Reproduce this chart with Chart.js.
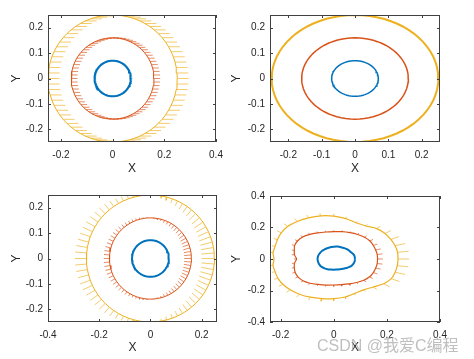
<!DOCTYPE html>
<html>
<head>
<meta charset="utf-8">
<script src="https://cdn.jsdelivr.net/npm/chart.js@4.4.1/dist/chart.umd.min.js"></script>
<style>
    html, body { margin: 0; padding: 0; background: #fff; }
    #wrap { position: relative; width: 474px; height: 359px; overflow: hidden; }
    canvas { position: absolute; }
    #mark {
        position: absolute; left: 317px; top: 332px;
        font: 16px "Liberation Sans", "Noto Sans CJK SC", sans-serif;
        color: rgba(170, 170, 170, 0.75); white-space: nowrap;
    }
</style>
</head>
<body>
<div id="wrap">
    <canvas id="c1" width="237" height="180" style="left:0;top:0"></canvas>
    <canvas id="c2" width="254" height="180" style="left:220px;top:0"></canvas>
    <canvas id="c3" width="237" height="179" style="left:0;top:180px"></canvas>
    <canvas id="c4" width="254" height="179" style="left:220px;top:180px"></canvas>
    <div id="mark">CSDN @我爱C编程</div>
</div>
<script>
// sample angles (degrees) along each ring
const ANGLES = [0,5,10,15,20,25,30,35,40,45,50,55,60,65,70,75,80,85,90,95,100,105,110,115,120,125,130,135,140,145,150,155,160,165,170,175,
    180,185,190,195,200,205,210,215,220,225,230,235,240,245,250,255,260,265,270,275,280,285,290,295,300,305,310,315,320,325,330,335,340,345,350,355];
const P4_ANGLES = [0,10,20,30,40,50,60,70,80,90,100,110,120,130,140,150,160,170,180,190,200,210,220,230,240,250,260,270,280,290,300,310,320,330,340,350];

// panel 1: circles, horizontal arrows
const p1Radius = [0.07, 0.16, 0.25];          // blue, red, yellow
const p1ArrowDx = [0.006, 0.024, 0.044];
const p1XTicks = [-0.2, 0, 0.2, 0.4];
const p1YTicks = [-0.2, -0.1, 0, 0.1, 0.2];

// panel 2: circles, (almost) no arrows
const p2Radius = [0.07, 0.16, 0.25];
const p2XTicks = [-0.2, -0.1, 0, 0.1, 0.2];
const p2YTicks = [-0.2, -0.1, 0, 0.1, 0.2];

// panel 3: circles, radial arrows (outward positive)
const p3Radius = [0.072, 0.16, 0.25];
const p3RedArrow = [-0.028,-0.028,-0.027,-0.027,-0.026,-0.025,-0.024,-0.023,-0.021,-0.020,-0.018,-0.016,-0.014,-0.012,-0.010,-0.007,-0.005,-0.002,
    0.000,0.002,0.004,0.006,0.008,0.009,0.011,0.013,0.014,0.016,0.017,0.018,0.019,0.020,0.021,0.022,0.022,0.022,
    0.022,0.022,0.022,0.022,0.021,0.020,0.019,0.018,0.017,0.016,0.014,0.013,0.011,0.009,0.008,0.006,0.004,0.002,
    0.000,-0.002,-0.005,-0.007,-0.010,-0.012,-0.014,-0.016,-0.018,-0.020,-0.021,-0.023,-0.024,-0.025,-0.026,-0.027,-0.027,-0.028];
const p3YellowArrow = [-0.050,-0.050,-0.049,-0.048,-0.047,-0.045,-0.043,-0.041,-0.038,-0.035,-0.032,-0.029,-0.025,-0.021,-0.017,-0.013,-0.009,-0.004,
    0.000,0.004,0.008,0.012,0.015,0.019,0.022,0.026,0.029,0.032,0.034,0.037,0.039,0.041,0.042,0.043,0.044,0.045,
    0.045,0.045,0.044,0.043,0.042,0.041,0.039,0.037,0.034,0.032,0.029,0.026,0.022,0.019,0.015,0.012,0.008,0.004,
    0.000,-0.004,-0.009,-0.013,-0.017,-0.021,-0.025,-0.029,-0.032,-0.035,-0.038,-0.041,-0.043,-0.045,-0.047,-0.048,-0.049,-0.050];
const p3XTicks = [-0.4, -0.2, 0, 0.2];
const p3YTicks = [-0.2, -0.1, 0, 0.1, 0.2];

// panel 4: deformed rings, radial arrows
const p4BlueRadius = [0.080,0.080,0.080,0.078,0.078,0.080,0.080,0.080,0.080,0.078,0.076,0.073,0.070,0.068,0.065,0.063,0.062,0.061,
    0.061,0.061,0.062,0.064,0.066,0.068,0.069,0.069,0.068,0.068,0.068,0.070,0.072,0.075,0.078,0.080,0.080,0.080];
const p4RedRadius = [0.165,0.166,0.168,0.172,0.178,0.180,0.180,0.178,0.176,0.174,0.174,0.176,0.180,0.182,0.178,0.170,0.158,0.150,
    0.140,0.150,0.158,0.168,0.176,0.180,0.178,0.172,0.168,0.165,0.165,0.168,0.172,0.176,0.176,0.172,0.168,0.166];
const p4RedArrow = [0.020,0.020,0.020,0.018,0.015,0.012,0.010,0.008,0.008,0.008,0.008,0.010,0.012,0.012,0.012,0.012,0.010,0.010,
    0.010,0.010,0.010,0.012,0.012,0.012,0.012,0.010,0.010,0.010,0.010,0.010,0.012,0.014,0.016,0.018,0.020,0.020];
const p4YellowRadius = [0.242,0.244,0.246,0.248,0.252,0.252,0.242,0.245,0.260,0.272,0.278,0.278,0.275,0.270,0.258,0.245,0.235,0.232,
    0.225,0.232,0.235,0.243,0.250,0.255,0.258,0.258,0.255,0.252,0.245,0.232,0.226,0.232,0.245,0.250,0.246,0.243];
const p4YellowArrow = [0.042,0.042,0.040,0.035,0.028,0.020,0.012,0.010,0.012,0.015,0.018,0.020,0.022,0.022,0.020,0.016,0.012,0.008,
    0.005,0.008,0.012,0.016,0.020,0.022,0.022,0.020,0.018,0.015,0.012,0.010,0.012,0.020,0.028,0.035,0.040,0.042];
const p4XTicks = [-0.2, 0, 0.2, 0.4];
const p4YTicks = [-0.4, -0.2, 0, 0.2, 0.4];

const BLUE = '#0072BD', RED = '#D95319', YELLOW = '#EDB120';
const FONT = '"Liberation Sans", Arial, sans-serif';
const TEXT = '#262626';

function ringPoints(angles, radius) {
    const pts = angles.map((a, i) => {
        const r = Array.isArray(radius) ? radius[i] : radius;
        const t = a * Math.PI / 180;
        return { x: r * Math.cos(t), y: r * Math.sin(t) };
    });
    pts.push(pts[0]);
    return pts;
}

// arrow shafts as segments separated by gaps
function quiverH(angles, radius, dx) {
    const out = [];
    ringPoints(angles, radius).slice(0, -1).forEach(p => {
        out.push(p, { x: p.x + dx, y: p.y }, { x: null, y: null });
    });
    return out;
}

function quiverR(angles, radius, lens) {
    const out = [];
    ringPoints(angles, radius).slice(0, -1).forEach((p, i) => {
        const t = angles[i] * Math.PI / 180;
        out.push(p, { x: p.x + lens[i] * Math.cos(t), y: p.y + lens[i] * Math.sin(t) }, { x: null, y: null });
    });
    return out;
}

function lineSet(data, color, width, tension) {
    return {
        data: data, showLine: true, borderColor: color, borderWidth: width,
        pointRadius: 0, tension: tension || 0, spanGaps: false, clip: 0
    };
}

function arrowSet(data, color) {
    return lineSet(data, color + 'A8', 1, 0);
}

const boxPlugin = {
    id: 'box',
    afterDraw(chart) {
        const { ctx, chartArea: a, scales } = chart;
        ctx.save();
        ctx.strokeStyle = '#404040';
        ctx.lineWidth = 1;
        ctx.strokeRect(a.left + 0.5, a.top + 0.5, a.right - a.left - 1, a.bottom - a.top - 1);
        ctx.beginPath();
        scales.x.ticks.forEach(t => {
            const px = Math.round(scales.x.getPixelForValue(t.value)) + 0.5;
            ctx.moveTo(px, a.bottom); ctx.lineTo(px, a.bottom - 3);
            ctx.moveTo(px, a.top); ctx.lineTo(px, a.top + 3);
        });
        scales.y.ticks.forEach(t => {
            const py = Math.round(scales.y.getPixelForValue(t.value)) + 0.5;
            ctx.moveTo(a.left, py); ctx.lineTo(a.left + 3, py);
            ctx.moveTo(a.right, py); ctx.lineTo(a.right - 3, py);
        });
        ctx.stroke();
        ctx.restore();
    }
};

function axis(min, max, ticks, title, isY, size) {
    return {
        type: 'linear', min: min, max: max,
        afterBuildTicks: s => { s.ticks = ticks.map(v => ({ value: v })); },
        afterFit: s => { if (isY) s.width = size; else s.height = size; },
        ticks: {
            callback: v => String(v), color: TEXT, autoSkip: false, maxRotation: 0,
            font: { family: FONT, size: 10 }, padding: isY ? 5 : 7
        },
        grid: { display: false, drawTicks: false },
        border: { display: false },
        title: {
            display: true, text: title, color: TEXT,
            font: { family: FONT, size: 12 },
            padding: isY ? { top: 9, bottom: 0 } : { top: 0, bottom: 4 }
        }
    };
}

function makePanel(id, cfg) {
    return new Chart(document.getElementById(id), {
        type: 'scatter',
        data: { datasets: cfg.datasets },
        options: {
            responsive: false, animation: false, devicePixelRatio: 1,
            layout: { padding: cfg.padding },
            plugins: { legend: { display: false }, tooltip: { enabled: false } },
            scales: {
                x: axis(cfg.x[0], cfg.x[1], cfg.xTicks, 'X', false, cfg.xh),
                y: axis(cfg.y[0], cfg.y[1], cfg.yTicks, 'Y', true, cfg.yw)
            }
        },
        plugins: [boxPlugin]
    });
}

makePanel('c1', {
    x: [-0.25, 0.4], y: [-0.25, 0.25], xTicks: p1XTicks, yTicks: p1YTicks,
    padding: { top: 15, right: 21, left: 0, bottom: 0 }, xh: 38, yw: 48,
    datasets: [
        lineSet(ringPoints(ANGLES, p1Radius[0]), BLUE, 2),
        lineSet(ringPoints(ANGLES, p1Radius[1]), RED, 1),
        lineSet(ringPoints(ANGLES, p1Radius[2]), YELLOW, 1),
        arrowSet(quiverH(ANGLES, p1Radius[0], p1ArrowDx[0]), BLUE),
        arrowSet(quiverH(ANGLES, p1Radius[1], p1ArrowDx[1]), RED),
        arrowSet(quiverH(ANGLES, p1Radius[2], p1ArrowDx[2]), YELLOW)
    ]
});

makePanel('c2', {
    x: [-0.255, 0.255], y: [-0.25, 0.25], xTicks: p2XTicks, yTicks: p2YTicks,
    padding: { top: 15, right: 34, left: 0, bottom: 0 }, xh: 38, yw: 50,
    datasets: [
        lineSet(ringPoints(ANGLES, p2Radius[0]), BLUE, 1.5),
        lineSet(ringPoints(ANGLES, p2Radius[1]), RED, 1.5),
        lineSet(ringPoints(ANGLES, p2Radius[2]), YELLOW, 2)
    ]
});

makePanel('c3', {
    x: [-0.4, 0.26], y: [-0.25, 0.25], xTicks: p3XTicks, yTicks: p3YTicks,
    padding: { top: 15, right: 20, left: 0, bottom: 0 }, xh: 37, yw: 48,
    datasets: [
        lineSet(ringPoints(ANGLES, p3Radius[0]), BLUE, 2),
        lineSet(ringPoints(ANGLES, p3Radius[1]), RED, 1),
        lineSet(ringPoints(ANGLES, p3Radius[2]), YELLOW, 1),
        arrowSet(quiverR(ANGLES, p3Radius[1], p3RedArrow), RED),
        arrowSet(quiverR(ANGLES, p3Radius[2], p3YellowArrow), YELLOW)
    ]
});

makePanel('c4', {
    x: [-0.24, 0.4], y: [-0.4, 0.4], xTicks: p4XTicks, yTicks: p4YTicks,
    padding: { top: 16, right: 34, left: 0, bottom: 0 }, xh: 37, yw: 50,
    datasets: [
        lineSet(ringPoints(P4_ANGLES, p4BlueRadius), BLUE, 2, 0.3),
        lineSet(ringPoints(P4_ANGLES, p4RedRadius), RED, 1.2, 0.3),
        lineSet(ringPoints(P4_ANGLES, p4YellowRadius), YELLOW, 1.2, 0.3),
        arrowSet(quiverR(P4_ANGLES, p4RedRadius, p4RedArrow), RED),
        arrowSet(quiverR(P4_ANGLES, p4YellowRadius, p4YellowArrow), YELLOW)
    ]
});
</script>
</body>
</html>
